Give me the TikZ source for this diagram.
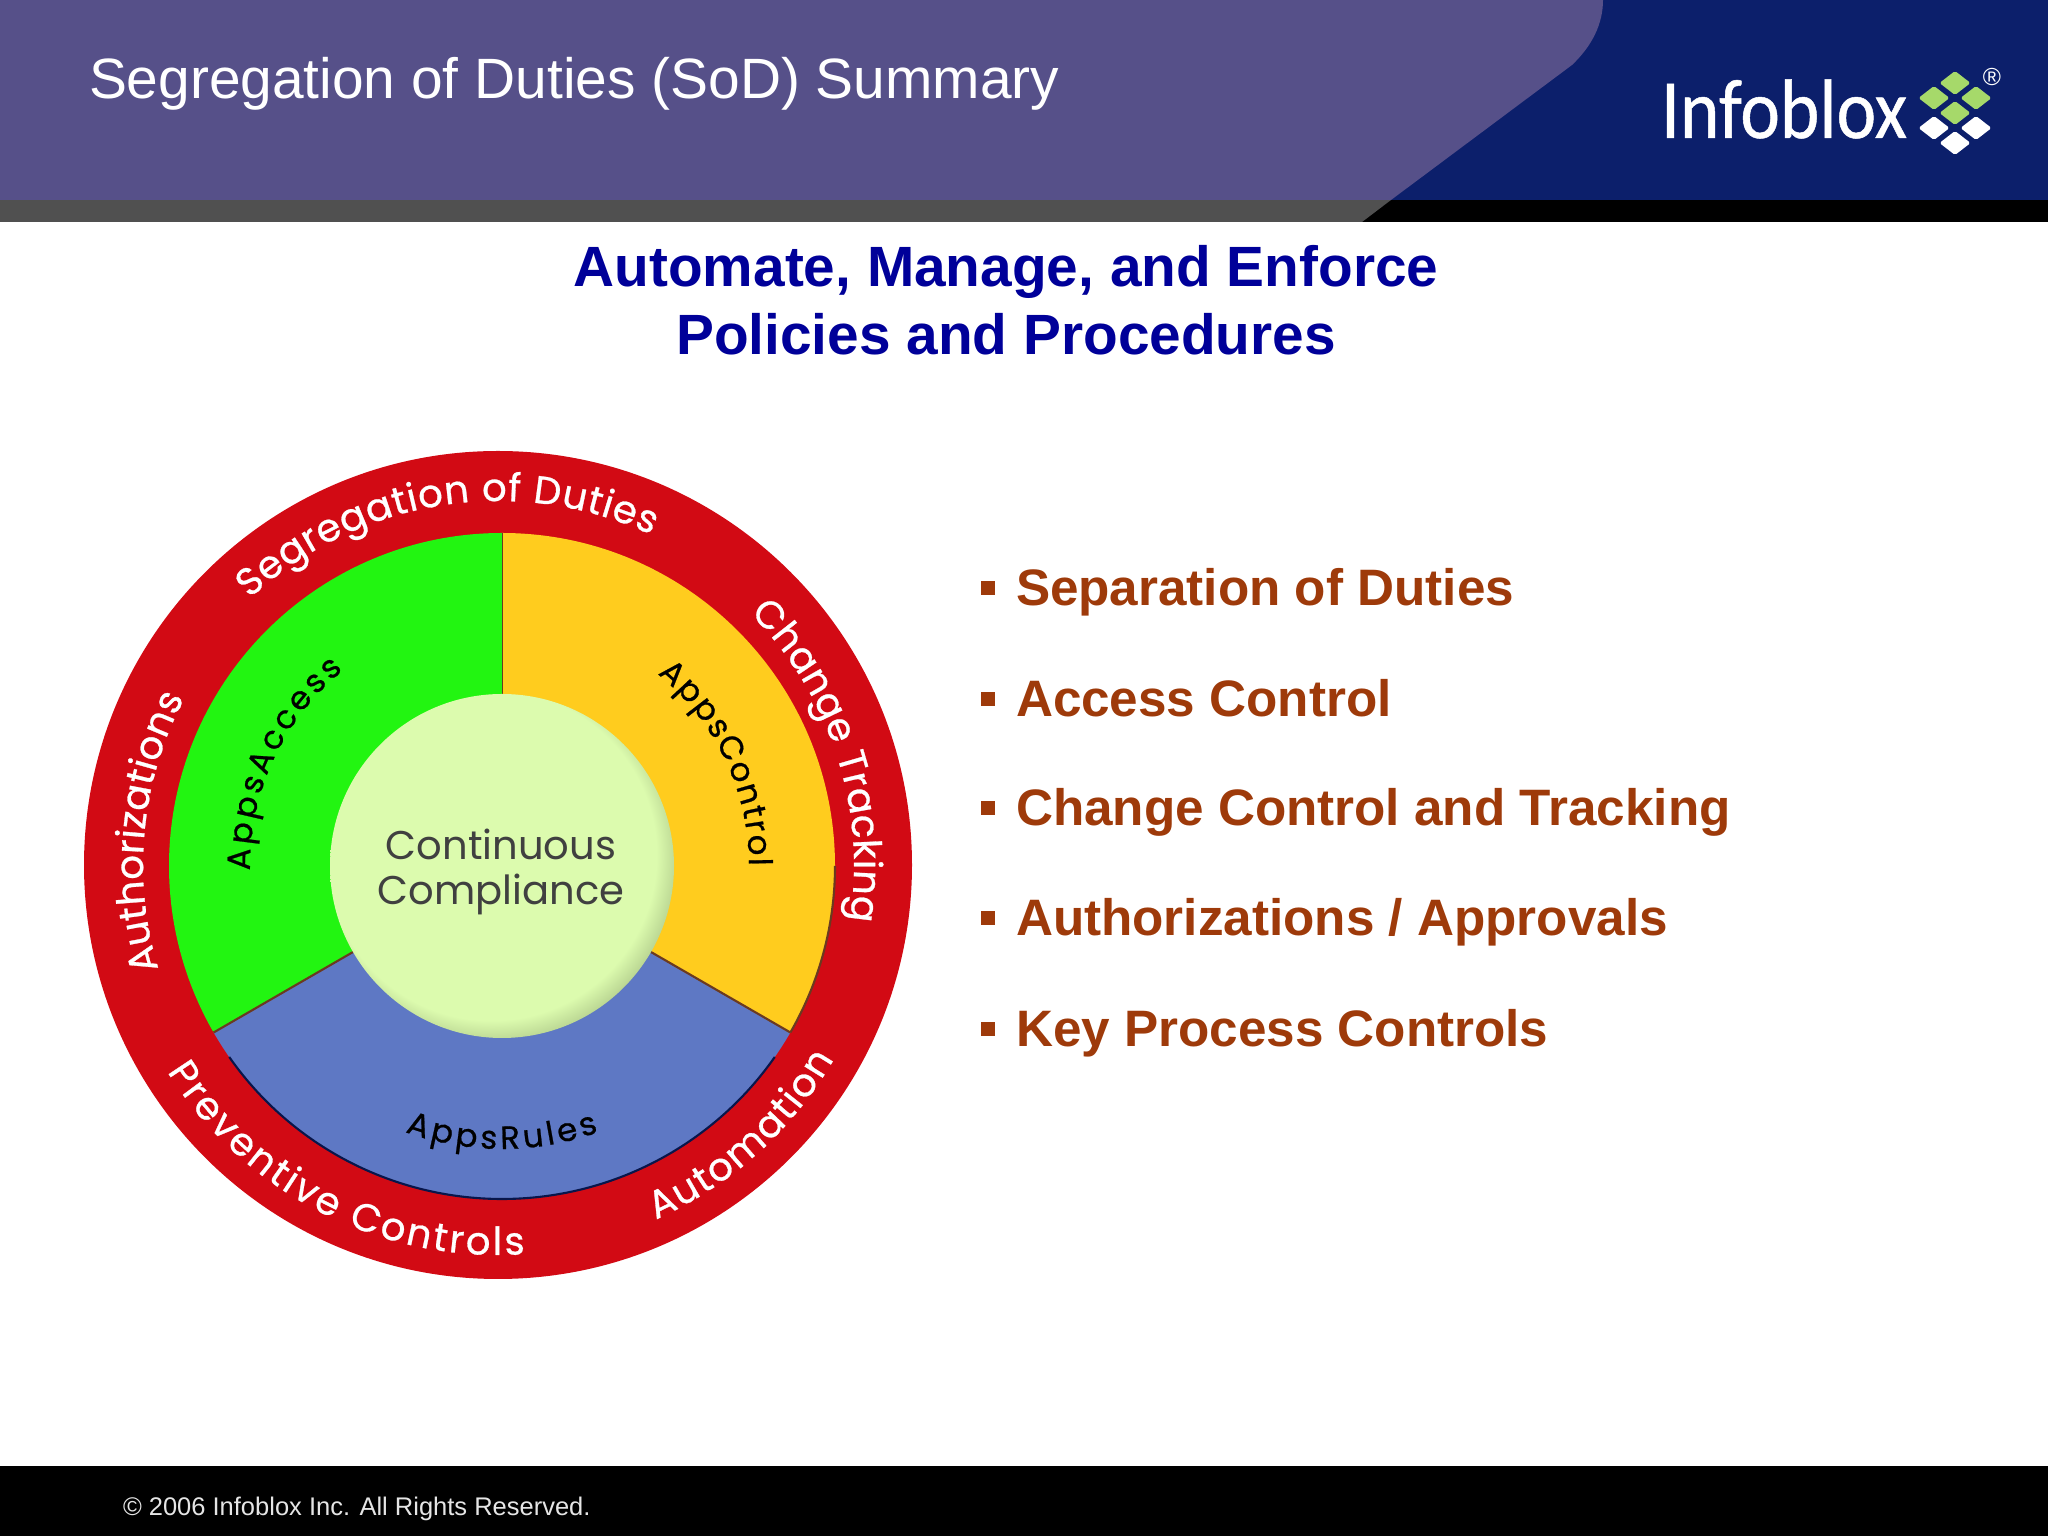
\documentclass[tikz,border=0pt]{standalone}
\usepackage{fontspec}
\usepackage{xcolor}
\usetikzlibrary{positioning, shapes.geometric, decorations.text}
\setmainfont{Liberation Sans}
\newfontfamily\ringfam{Poppins}
\newfontfamily\ringheavy[FakeBold=0.7]{Poppins}
\newfontfamily\logofam[FakeBold=0.6]{Carlito}
\definecolor{bandpurple}{HTML}{565089}
\definecolor{bandnavy}{HTML}{0C1F6B}
\definecolor{bandgray}{HTML}{505050}
\definecolor{headblue}{HTML}{000099}
\definecolor{itembrown}{HTML}{9E3A0A}
\definecolor{ringred}{HTML}{D20A14}
\definecolor{accessgreen}{HTML}{22F511}
\definecolor{controlyellow}{HTML}{FFCC1E}
\definecolor{rulesblue}{HTML}{5E78C4}
\definecolor{discin}{HTML}{DCFBAE}
\definecolor{discdark}{HTML}{A8C284}
\definecolor{logogreen}{HTML}{A6D96A}
\definecolor{edgebrown}{HTML}{6B3A20}
\pgfdeclareradialshading{discshade}{\pgfpoint{-3bp}{3bp}}{color(0bp)=(discin); color(24bp)=(discin); color(28.5bp)=(discdark); color(50bp)=(discdark)}
\newcommand{\ringtext}{\color{white}\ringheavy\fontsize{11}{12}\selectfont}
\newcommand{\apptext}{\color{black}\ringheavy\fontsize{9.2}{10}\selectfont}
\tikzset{
    x=0.01cm, y=0.01cm,
    every node/.style={inner sep=0pt, outer sep=0pt},
    listitem/.style={anchor=base west, text=itembrown, font=\bfseries\fontsize{14.57}{17}\selectfont},
    listmark/.style={rectangle, fill=itembrown, minimum size=0.14cm},
    tile/.style={diamond, minimum width=0.31cm, minimum height=0.24cm, aspect=1.3, rounded corners=0.5pt},
    onarc/.style={decorate, decoration={text along path, text align={fit to path}, text={#1}}},
}

\begin{document}
\begin{tikzpicture}
    \useasboundingbox (0,0) rectangle (2048,1536);
    \coordinate (c) at (498,671);
    \coordinate (ci) at (502,670);

    % header and footer
    \fill[bandnavy] (0,1336) rectangle (2048,1536);
    \fill[black] (0,1314) rectangle (2048,1336);
    \fill[bandgray] (0,1314) -- (1362,1314) -- (1391,1336) -- (0,1336) -- cycle;
    \fill[bandpurple] (0,1336) -- (1391,1336) -- (1572,1471) .. controls (1592,1490) and (1603,1512) .. (1603,1536) -- (0,1536) -- cycle;
    \fill[black] (0,0) rectangle (2048,70);

    \node[anchor=base west, text=white, font=\fontsize{16.17}{18}\selectfont] (title) at (89,1437) {Segregation of Duties (SoD) Summary};
    \node[anchor=base west, text=white, font=\logofam\fontsize{24}{26}\selectfont, xscale=0.89] (logo) at (1661,1398) {Infoblox};
    \node[anchor=center, text=white, font=\fontsize{7}{8}\selectfont] (reg) at (1992,1459) {\textregistered};
    \foreach \x/\y/\col [count=\i] in {1955/1453/logogreen, 1934/1438/logogreen, 1976/1438/logogreen, 1955/1423/logogreen, 1934/1408/white, 1976/1408/white, 1955/1393/white}
        \node[tile, fill=\col] (tile\i) at (\x,\y) {};

    \node[align=center, text=headblue, font=\bfseries\fontsize{16.15}{19.4}\selectfont] (head) at (1006,1236) {Automate, Manage, and Enforce\\Policies and Procedures};

    % wheel
    \fill[ringred] (c) circle[radius=414];
    \fill[accessgreen] (ci) -- ++(90:333) arc[start angle=90, end angle=210, radius=333] -- cycle;
    \fill[controlyellow] (ci) -- ++(90:333) arc[start angle=90, end angle=-30, radius=333] -- cycle;
    \fill[rulesblue] (ci) -- ++(210:333) arc[start angle=210, end angle=330, radius=333] -- cycle;
    \draw[edgebrown, line width=0.25pt] (ci) -- ++(90:333);
    \draw[edgebrown, line width=0.6pt] (ci) -- ++(210:333);
    \draw[edgebrown, line width=0.6pt] (ci) -- ++(330:333);
    \draw[edgebrown, line width=0.6pt] (ci) ++(330:333) arc[start angle=330, end angle=360, radius=333];
    \draw[bandnavy!70!black, line width=0.6pt] (ci) ++(215:333) arc[start angle=215, end angle=325, radius=333];
    \shade[shading=discshade] (ci) circle[radius=172];

    \node[align=center, text=black!75, font=\ringfam\fontsize{11.4}{12.9}\selectfont] (disc) at (501,664) {Continuous\\Compliance};

    \path[onarc={|\ringtext|Segregation of Duties}] (c) ++(133:364) arc[start angle=133, end angle=65, radius=364];
    \path[onarc={|\ringtext|Change Tracking}] (c) ++(45:356) arc[start angle=45, end angle=-9, radius=356];
    \path[onarc={|\ringtext|Authorizations}] (c) ++(197:355) arc[start angle=197, end angle=152, radius=355];
    \path[onarc={|\ringtext|Preventive Controls}] (c) ++(212:390) arc[start angle=212, end angle=274, radius=390];
    \path[onarc={|\ringtext|Automation}] (c) ++(294:388) arc[start angle=294, end angle=330, radius=388];
    \path[onarc={|\apptext|AppsAccess}] (ci) ++(181:252) arc[start angle=181, end angle=129, radius=252];
    \path[onarc={|\apptext|AppsControl}] (ci) ++(51:247) arc[start angle=51, end angle=0, radius=247];
    \path[onarc={|\apptext|AppsRules}] (ci) ++(250:283) arc[start angle=250, end angle=290, radius=283];

    % list on the right
    \foreach \y/\txt [count=\i] in {930/{Separation of Duties}, 819/{Access Control}, 710/{Change Control and Tracking}, 600/{Authorizations / Approvals}, 489/{Key Process Controls}} {
        \node[listitem] (item\i) at (1016,\y) {\txt};
        \node[listmark] (mark\i) at (988,\y+18) {};
    }

    \node[anchor=base west, text=black!10, font=\fontsize{7.25}{8}\selectfont] (foot) at (123,21) {© 2006 Infoblox Inc. All Rights Reserved.};
\end{tikzpicture}
\end{document}
